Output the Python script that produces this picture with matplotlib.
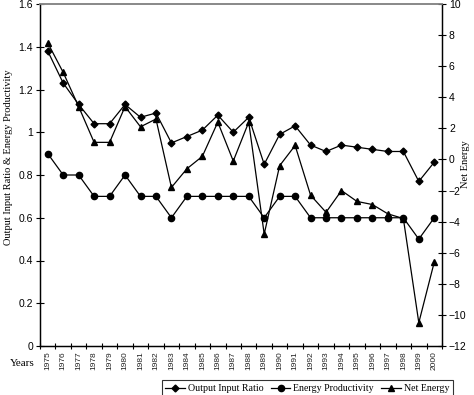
import matplotlib
matplotlib.use("Agg")
import matplotlib.pyplot as plt
from matplotlib.ticker import FixedLocator, FixedFormatter

plt.rcParams["font.family"] = ["Liberation Serif", "DejaVu Serif"]

years = [str(y) for y in range(1975, 2001)]
output_input_ratio = [1.38, 1.23, 1.13, 1.04, 1.04, 1.13, 1.07, 1.09, 0.95, 0.98,
                      1.01, 1.08, 1.00, 1.07, 0.85, 0.99, 1.03, 0.94, 0.91, 0.94,
                      0.93, 0.92, 0.91, 0.91, 0.77, 0.86]
energy_productivity = [0.9, 0.8, 0.8, 0.7, 0.7, 0.8, 0.7, 0.7, 0.6, 0.7,
                       0.7, 0.7, 0.7, 0.7, 0.6, 0.7, 0.7, 0.6, 0.6, 0.6,
                       0.6, 0.6, 0.6, 0.6, 0.5, 0.6]
net_energy = [7.5, 5.6, 3.4, 1.1, 1.1, 3.4, 2.1, 2.6, -1.8, -0.6,
              0.2, 2.4, -0.1, 2.4, -4.8, -0.4, 0.9, -2.3, -3.4, -2.0,
              -2.7, -2.9, -3.5, -3.8, -10.5, -6.6]

left_ticks = [0, 0.2, 0.4, 0.6, 0.8, 1.0, 1.2, 1.4, 1.6]
left_labels = ["0", "0.2", "0.4", "0.6", "0.8", "1", "1.2", "1.4", "1.6"]
right_ticks = list(range(-12, 11, 2))

fig = plt.figure(figsize=(4.74, 3.95), dpi=100)
ax = fig.add_axes([40 / 474, 1 - 346 / 395, 402 / 474, 342 / 395])
ax2 = ax.twinx()

x = list(range(len(years)))
ax.plot(x, output_input_ratio, color="black", lw=0.9, marker="D", ms=3.5,
        label="Output Input Ratio")
ax.plot(x, energy_productivity, color="black", lw=0.9, marker="o", ms=4.5,
        label="Energy Productivity")
ax2.plot(x, net_energy, color="black", lw=0.9, marker="^", ms=4.5,
         label="Net Energy")

ax.set_xlim(-0.5, len(years) - 0.5)
ax.set_ylim(0, 1.6)
ax2.set_ylim(-12, 10)

# x axis: tick marks between categories, labels at centres
ax.xaxis.set_major_locator(FixedLocator(x))
ax.xaxis.set_major_formatter(FixedFormatter(years))
ax.xaxis.set_minor_locator(FixedLocator([i - 0.5 for i in range(len(years) + 1)]))
ax.tick_params(axis="x", which="major", length=0, pad=4, labelsize=6,
               labelrotation=90, labelfontfamily="Liberation Sans", colors="#222222")
ax.tick_params(axis="x", which="minor", direction="inout", length=5, width=0.8)

ax.set_yticks(left_ticks)
ax.set_yticklabels(left_labels)
ax.tick_params(axis="y", direction="inout", length=6, width=0.8, labelsize=7.5,
               labelfontfamily="Liberation Sans", pad=2)
ax2.set_yticks(right_ticks)
ax2.tick_params(axis="y", direction="inout", length=6, width=0.8, labelsize=7.5,
                labelfontfamily="Liberation Sans", pad=2)

for a in (ax, ax2):
    a.spines["top"].set_color("#888888")
    a.spines["top"].set_linewidth(1.2)
    for s in ("left", "right", "bottom"):
        a.spines[s].set_linewidth(0.9)

ax.set_ylabel("Output Input Ratio & Energy Productivity", fontsize=7.5)
ax.yaxis.set_label_coords(-0.068, 0.553)
ax2.set_ylabel("Net Energy", fontsize=7.5)
ax2.yaxis.set_label_coords(1.048, 0.532)

fig.text(22 / 474, 1 - 363 / 395, "Years", fontsize=8, ha="center", va="center")

h1, l1 = ax.get_legend_handles_labels()
h2, l2 = ax2.get_legend_handles_labels()
leg = fig.legend(h1 + h2, l1 + l2, loc="lower right", bbox_to_anchor=(453 / 474, -0.005),
                 ncol=3, fontsize=7.1, frameon=True, fancybox=False, edgecolor="black",
                 handlelength=2.0, handletextpad=0.3, columnspacing=0.7,
                 borderpad=0.4, borderaxespad=0)
leg.get_frame().set_linewidth(0.8)

fig.savefig("out.png", dpi=100)
